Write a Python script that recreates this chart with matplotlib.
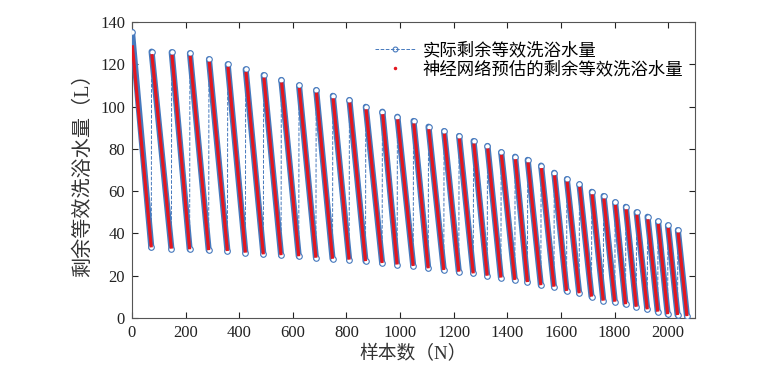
import matplotlib.pyplot as plt
from matplotlib.lines import Line2D

# sample index where each discharge cycle starts
cycle_start = [0, 73, 148, 216, 287, 357, 424, 491, 557, 623, 687, 749, 811, 872,
               934, 990, 1050, 1106, 1164, 1220, 1274, 1326, 1377, 1429, 1476, 1526,
               1575, 1622, 1669, 1715, 1759, 1802, 1842, 1882, 1923, 1962, 1999, 2036]
last_sample = 2070

# actual remaining equivalent bath water (L) at start / end of each cycle
actual_peak = [135.3, 126.0, 125.7, 125.2, 122.4, 120.0, 117.6, 114.9, 112.6, 110.0,
               107.8, 105.1, 103.1, 99.9, 97.6, 95.2, 93.2, 90.5, 88.4, 86.1, 83.7,
               81.4, 78.4, 76.3, 74.8, 72.1, 68.7, 65.7, 63.2, 59.7, 57.7, 54.7, 52.6,
               50.0, 47.9, 45.7, 43.8, 41.6]
actual_bottom = [33.4, 32.8, 32.5, 32.1, 31.7, 30.9, 30.1, 29.7, 29.2, 28.5, 28.0,
                 27.6, 26.9, 26.0, 25.3, 24.6, 23.5, 22.7, 21.9, 21.1, 20.0, 19.1,
                 18.0, 17.0, 15.5, 14.8, 12.8, 11.7, 10.1, 8.2, 7.7, 6.5, 5.3, 4.1,
                 3.0, 1.8, 1.4, 0.9]

# neural network estimate (only the first cycle start differs visibly)
pred_peak = [130.2] + actual_peak[1:]
pred_bottom = actual_bottom[:]

blue = '#4679bd'
red = '#e3171f'
serif = ['Liberation Serif', 'Noto Sans CJK SC']

fig = plt.figure(figsize=(7.79, 3.85), dpi=100)
ax = fig.add_axes([132 / 779, 67 / 385, 563 / 779, 296 / 385])

cycle_end = [s - 1 for s in cycle_start[1:]] + [last_sample]

# dashed line through all actual values (connects the cycles)
xs, ys = [], []
for s, e, p, b in zip(cycle_start, cycle_end, actual_peak, actual_bottom):
    xs += [s, e]
    ys += [p, b]
ax.plot(xs, ys, '--', color=blue, lw=0.7, zorder=2)

# dense markers drawn as bands for every cycle
for s, e, p, b in zip(cycle_start, cycle_end, actual_peak, actual_bottom):
    ax.plot([s, e], [p, b], color=blue, lw=4.4, solid_capstyle='round', zorder=3)
ax.plot(cycle_start, actual_peak, 'o', ms=4, mfc='white', mec=blue, mew=0.8, zorder=4)
ax.plot(cycle_end, actual_bottom, 'o', ms=4, mfc='white', mec=blue, mew=0.8, zorder=4)
for s, e, p, b in zip(cycle_start, cycle_end, pred_peak, pred_bottom):
    ax.plot([s + 1, e], [p - 1.2, b], color=red, lw=2.3, solid_capstyle='butt', zorder=5)

ax.set_xlim(0, 2100)
ax.set_ylim(0, 140)
ax.set_xticks(range(0, 2001, 200))
ax.set_yticks(range(0, 141, 20))
ax.tick_params(direction='in', top=True, right=True, length=4, width=0.8,
               labelsize=12, colors='#222222', pad=5)
for lab in ax.get_xticklabels() + ax.get_yticklabels():
    lab.set_family(serif)
for sp in ax.spines.values():
    sp.set_color('#555555')
    sp.set_linewidth(0.8)

ax.set_xlabel('样本数（N）', family=serif, fontsize=13.5, color='#333333', labelpad=3)
ax.set_ylabel('剩余等效洗浴水量（L）', family=serif, fontsize=14.5, color='#333333', labelpad=5)

handles = [Line2D([], [], color=blue, ls='--', lw=0.7, marker='o', ms=3.5, mfc='none', mew=0.8),
           Line2D([], [], color=red, ls='none', marker='.', ms=3)]
ax.legend(handles, ['实际剩余等效洗浴水量', '神经网络预估的剩余等效洗浴水量'],
          loc='upper left', bbox_to_anchor=(0.42, 0.955), frameon=False,
          prop={'family': serif, 'size': 12.5}, handlelength=2.3, handletextpad=0.4,
          labelspacing=0.15, borderaxespad=0)

fig.savefig('out.png', dpi=100)
